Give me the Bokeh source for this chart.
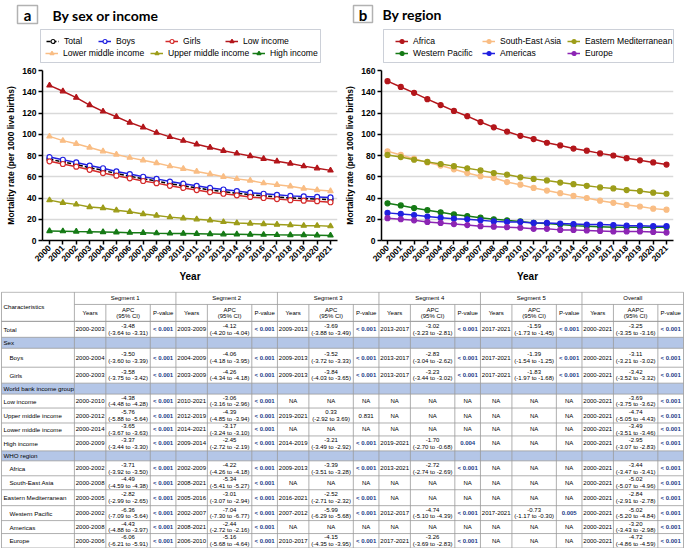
import math
from bokeh.plotting import figure
from bokeh.models import (Range1d, FixedTicker, Legend, LegendItem, Label,
                          BoxAnnotation)
from bokeh.layouts import column, row
from bokeh.embed import file_html
from bokeh.resources import INLINE
from bokeh.core.properties import value

# ---------------- data ----------------
years = list(range(2000, 2022))
y_ticks = [0, 20, 40, 60, 80, 100, 120, 140, 160]

# panel a: by sex or income (deaths per 1000 live births)
total = [76.5, 74, 71.5, 68.5, 66, 63, 60.5, 58, 56, 53.5, 51.5, 49.5, 47.5, 46, 44.5, 43, 42, 41, 40, 39.5, 39, 38.5]
boys = [78.5, 76, 73.5, 70.5, 68, 65, 62.5, 60, 58, 55.5, 53.5, 51.5, 49.5, 48, 46.5, 45, 44, 43, 42, 41.5, 41, 40.5]
girls = [74.5, 72, 69.5, 66.5, 63.5, 61, 58.5, 56, 54, 51.5, 49.5, 47.5, 45.5, 44, 42.5, 41, 40, 39, 38, 37.5, 37, 36]
low_income = [146, 140.5, 134.5, 127.5, 121.5, 116.5, 111, 106.5, 101.5, 97.5, 94, 90.5, 87.5, 84.5, 82, 79.5, 77, 74.5, 72.5, 70, 68, 66]
lower_middle = [98, 94, 91, 87.5, 84, 81, 78, 75.5, 73, 70, 67.5, 65, 62.5, 60, 58, 56.5, 54, 52.5, 51, 49, 47.5, 46.5]
upper_middle = [38, 35.5, 34, 31.5, 30.5, 28.5, 27, 25, 23.5, 22, 21, 20, 19, 17.5, 16.5, 16, 15.5, 15, 14.5, 14, 14, 13.5]
high_income = [9, 8.8, 8.5, 8.3, 8, 7.7, 7.4, 7.2, 6.9, 6.7, 6.5, 6.3, 6.1, 5.9, 5.8, 5.6, 5.5, 5.3, 5.2, 5.1, 5.0, 4.8]

# panel b: by WHO region
africa = [150, 144.5, 139, 133, 127.5, 122, 117, 111.5, 106.5, 102.5, 98.5, 95.5, 92, 89.5, 86.5, 84.5, 82, 80, 77.5, 75.5, 73.5, 71.5]
se_asia = [84, 80.5, 77, 73.5, 70.5, 67, 63.5, 60.5, 59, 55, 52.5, 49.5, 47, 44.5, 42, 40, 37.5, 35.5, 33.5, 32, 30, 29]
east_med = [80.5, 78.5, 76, 74, 72, 70, 68, 66, 63.5, 62, 59.5, 58, 56.5, 54.5, 53, 51.5, 50, 49, 47.5, 46.5, 45, 44]
west_pac = [35, 33, 30.5, 28.5, 26.5, 24.5, 23, 21.5, 20, 19, 18, 16.5, 16, 15, 14, 13.5, 13, 12.5, 12.5, 12.5, 12.5, 12.5]
americas = [26, 25, 24, 22.5, 21.5, 20.5, 20, 19, 18, 17.5, 17.5, 16.5, 16.5, 16, 15.5, 15, 15, 14.5, 14, 14, 13.5, 13.5]
europe = [21, 20, 19, 17.5, 16.5, 15.5, 14.5, 13.5, 13, 12.5, 12, 11, 11, 10, 10, 9.5, 9, 8.5, 8.5, 8.5, 8, 7.5]

# table
seg_headers = ["Segment 1", "Segment 2", "Segment 3", "Segment 4", "Segment 5", "Overall"]
row_names = ["Total", "Sex", "Boys", "Girls", "World bank income group", "Low income",
             "Upper middle income", "Lower middle income", "High income", "WHO region",
             "Africa", "South-East Asia", "Eastern Mediterranean", "Western Pacific",
             "Americas", "Europe"]
NA = ("NA", "NA", "", "NA")
seg_total = [("2000-2003", "-3.48", "(-3.64 to -3.31)", "< 0.001"), ("2003-2009", "-4.12", "(-4.20 to -4.04)", "< 0.001"),
             ("2009-2013", "-3.69", "(-3.88 to -3.49)", "< 0.001"), ("2013-2017", "-3.02", "(-3.23 to -2.81)", "< 0.001"),
             ("2017-2021", "-1.59", "(-1.73 to -1.45)", "< 0.001"), ("2000-2021", "-3.25", "(-3.35 to -3.16)", "< 0.001")]
seg_boys = [("2000-2004", "-3.50", "(-3.60 to -3.39)", "< 0.001"), ("2004-2009", "-4.06", "(-4.18 to -3.95)", "< 0.001"),
            ("2009-2013", "-3.52", "(-3.72 to -3.33)", "< 0.001"), ("2013-2017", "-2.83", "(-3.04 to -2.62)", "< 0.001"),
            ("2017-2021", "-1.39", "(-1.54 to -1.25)", "< 0.001"), ("2000-2021", "-3.11", "(-3.21 to -3.02)", "< 0.001")]
seg_girls = [("2000-2003", "-3.58", "(-3.75 to -3.42)", "< 0.001"), ("2003-2009", "-4.26", "(-4.34 to -4.18)", "< 0.001"),
             ("2009-2013", "-3.84", "(-4.03 to -3.65)", "< 0.001"), ("2013-2017", "-3.23", "(-3.44 to -3.02)", "< 0.001"),
             ("2017-2021", "-1.83", "(-1.97 to -1.68)", "< 0.001"), ("2000-2021", "-3.42", "(-3.52 to -3.32)", "< 0.001")]
seg_low = [("2000-2010", "-4.38", "(-4.48 to -4.28)", "< 0.001"), ("2010-2021", "-3.06", "(-3.16 to -2.96)", "< 0.001"),
           NA, NA, NA, ("2000-2021", "-3.69", "(-3.75 to -3.62)", "< 0.001")]
seg_upper = [("2000-2012", "-5.76", "(-5.88 to -5.64)", "< 0.001"), ("2012-2019", "-4.39", "(-4.85 to -3.94)", "< 0.001"),
             ("2019-2021", "0.33", "(-2.92 to 3.69)", "0.831"), NA, NA, ("2000-2021", "-4.74", "(-5.05 to -4.43)", "< 0.001")]
seg_lower = [("2000-2014", "-3.65", "(-3.67 to -3.63)", "< 0.001"), ("2014-2021", "-3.17", "(-3.24 to -3.10)", "< 0.001"),
             NA, NA, NA, ("2000-2021", "-3.49", "(-3.51 to -3.46)", "< 0.001")]
seg_high = [("2000-2009", "-3.37", "(-3.44 to -3.30)", "< 0.001"), ("2009-2014", "-2.45", "(-2.72 to -2.19)", "< 0.001"),
            ("2014-2019", "-3.21", "(-3.49 to -2.92)", "< 0.001"), ("2019-2021", "-1.70", "(-2.70 to -0.68)", "0.004"),
            NA, ("2000-2021", "-2.95", "(-3.07 to -2.83)", "< 0.001")]
seg_africa = [("2000-2002", "-3.71", "(-3.92 to -3.50)", "< 0.001"), ("2002-2009", "-4.22", "(-4.26 to -4.18)", "< 0.001"),
              ("2009-2013", "-3.39", "(-3.51 to -3.28)", "< 0.001"), ("2013-2021", "-2.72", "(-2.74 to -2.69)", "< 0.001"),
              NA, ("2000-2021", "-3.44", "(-3.47 to -3.41)", "< 0.001")]
seg_sea = [("2000-2008", "-4.49", "(-4.59 to -4.38)", "< 0.001"), ("2008-2021", "-5.34", "(-5.41 to -5.27)", "< 0.001"),
           NA, NA, NA, ("2000-2021", "-5.02", "(-5.07 to -4.96)", "< 0.001")]
seg_emr = [("2000-2005", "-2.82", "(-2.99 to -2.65)", "< 0.001"), ("2005-2016", "-3.01", "(-3.07 to -2.94)", "< 0.001"),
           ("2016-2021", "-2.52", "(-2.71 to -2.32)", "< 0.001"), NA, NA, ("2000-2021", "-2.84", "(-2.91 to -2.78)", "< 0.001")]
seg_wpr = [("2000-2002", "-6.36", "(-7.09 to -5.64)", "< 0.001"), ("2002-2007", "-7.04", "(-7.30 to -6.77)", "< 0.001"),
           ("2007-2012", "-5.99", "(-6.29 to -5.68)", "< 0.001"), ("2012-2017", "-4.74", "(-5.10 to -4.39)", "< 0.001"),
           ("2017-2021", "-0.73", "(-1.17 to -0.30)", "0.005"), ("2000-2021", "-5.02", "(-5.20 to -4.84)", "< 0.001")]
seg_amr = [("2000-2008", "-4.43", "(-4.88 to -3.97)", "< 0.001"), ("2008-2021", "-2.44", "(-2.72 to -2.16)", "< 0.001"),
           NA, NA, NA, ("2000-2021", "-3.20", "(-3.43 to -2.98)", "< 0.001")]
seg_eur = [("2000-2006", "-6.06", "(-6.21 to -5.91)", "< 0.001"), ("2006-2010", "-5.16", "(-5.68 to -4.64)", "< 0.001"),
           ("2010-2017", "-4.15", "(-4.35 to -3.95)", "< 0.001"), ("2017-2021", "-3.26", "(-3.69 to -2.83)", "< 0.001"),
           NA, ("2000-2021", "-4.72", "(-4.86 to -4.59)", "< 0.001")]
row_cells = [seg_total, None, seg_boys, seg_girls, None, seg_low, seg_upper, seg_lower, seg_high, None,
             seg_africa, seg_sea, seg_emr, seg_wpr, seg_amr, seg_eur]

# ---------------- styles ----------------
FONT = "Liberation Sans"
C_DRED = "#b3161b"
C_ORANGE = "#f9bd84"
C_OLIVE = "#9d9d1a"
C_GREEN = "#157a15"
C_BLUE = "#2020e0"
C_RED = "#d42a2a"
C_PURPLE = "#8c25b4"
HEAD_H = 63
CHART_H = 228
TABLE_H = 257


def make_chart(width, height, fl, fr, ft, fb, xr):
    p = figure(width=width, height=height, x_range=Range1d(*xr), y_range=Range1d(0, 160),
               output_backend="svg", toolbar_location=None,
               min_border_left=fl, min_border_right=width - fr,
               min_border_top=ft, min_border_bottom=height - fb)
    p.outline_line_color = None
    p.xgrid.grid_line_color = None
    p.ygrid.grid_line_color = "#d9d9d9"
    p.ygrid.grid_line_width = 1.3
    p.yaxis.ticker = FixedTicker(ticks=y_ticks)
    p.ygrid.ticker = FixedTicker(ticks=y_ticks)
    p.xaxis.ticker = FixedTicker(ticks=years)
    for ax in (p.xaxis[0], p.yaxis[0]):
        ax.axis_line_width = 1.5
        ax.axis_line_color = "black"
        ax.major_tick_line_width = 1.5
        ax.major_tick_line_color = "black"
        ax.major_tick_out = 4
        ax.major_tick_in = 0
        ax.minor_tick_line_color = None
        ax.major_label_text_font = FONT
        ax.major_label_text_font_style = "bold"
        ax.major_label_text_font_size = "8.5px"
        ax.major_label_text_color = "black"
        ax.major_label_standoff = 2
        ax.axis_label_text_font = FONT
        ax.axis_label_text_font_style = "bold"
        ax.axis_label_text_color = "black"
    p.xaxis.major_label_orientation = math.pi / 4
    p.xaxis.axis_label = "Year"
    p.xaxis.axis_label_text_font_size = "10px"
    p.xaxis.axis_label_standoff = 4
    p.yaxis.axis_label = "Mortality rate (per 1000 live births)"
    p.yaxis.axis_label_text_font_size = "8.5px"
    p.yaxis.axis_label_standoff = 3
    return p


def series(p, ys, color, marker, dash="solid", fill=None, size=5):
    r1 = p.line(years, ys, line_color=color, line_width=1.5, line_dash=dash)
    r2 = p.scatter(years, ys, marker=marker, size=size, line_color=color,
                   fill_color=fill if fill else color, line_width=1.2)
    return [r1, r2]


def make_header(width, letter, lbox, title, tx, legbox, items):
    h = figure(width=width, height=HEAD_H, x_range=Range1d(0, width), y_range=Range1d(HEAD_H, 0),
               output_backend="svg", toolbar_location=None, min_border=0,
               x_axis_type=None, y_axis_type=None)
    h.grid.visible = False
    h.outline_line_color = None
    x0, y0, x1, y1 = lbox
    h.add_layout(BoxAnnotation(left=x0, right=x1, top=y0, bottom=y1,
                               fill_alpha=0, line_color="black", line_width=1.5))
    h.add_layout(Label(x=(x0 + x1) / 2, y=(y0 + y1) / 2 + 0.5, text=letter, text_font="Lato",
                       text_font_style="bold", text_font_size="15px",
                       text_align="center", text_baseline="middle", text_color="black"))
    h.add_layout(Label(x=tx, y=(y0 + y1) / 2 + 0.5, text=title, text_font="Lato",
                       text_font_style="bold", text_font_size="14px",
                       text_align="left", text_baseline="middle", text_color="black"))
    x0, y0, x1, y1 = legbox
    h.add_layout(BoxAnnotation(left=x0, right=x1, top=y0, bottom=y1,
                               fill_alpha=0, line_color="#56627e", line_width=1))
    for (lx, ly, lab, ys, color, marker, dash, fill, size) in items:
        # legend glyphs: the real series, drawn outside this header's visible range
        rends = series(h, ys, color, marker, dash=dash, fill=fill, size=size)
        leg = Legend(items=[LegendItem(label=lab, renderers=rends)],
                     location=(lx, HEAD_H - ly - 5), orientation="horizontal",
                     padding=0, margin=0, spacing=0, glyph_width=13, glyph_height=10,
                     label_height=10, label_standoff=5, label_text_font=FONT,
                     label_text_font_size="8.6px", label_text_color="black",
                     label_text_baseline="middle",
                     border_line_alpha=0, background_fill_alpha=0)
        h.add_layout(leg)
    return h


# ---------------- panel a ----------------
sty_a = [("Total", total, "black", "circle", "4 2", "white", 5),
         ("Boys", boys, C_BLUE, "circle", "solid", "white", 5),
         ("Girls", girls, C_RED, "circle", "solid", "white", 5),
         ("Low income", low_income, C_DRED, "triangle", "solid", None, 5.5),
         ("Lower middle income", lower_middle, C_ORANGE, "triangle", "solid", None, 5.5),
         ("Upper middle income", upper_middle, C_OLIVE, "triangle", "solid", None, 5.5),
         ("High income", high_income, C_GREEN, "triangle", "solid", None, 5.5)]
pos_a = [(46, 40.5), (98, 40.5), (165, 40.5), (225, 40.5), (45, 53), (150, 53), (252, 53)]

WA = 340
pa = make_chart(WA, CHART_H, 42, 337, 70 - HEAD_H, 243 - HEAD_H, (1999.477, 2021.523))
for (lab, ys, c, m, d, f, s) in sty_a[3:] + sty_a[:3]:
    series(pa, ys, c, m, dash=d, fill=f, size=s)
ha = make_header(WA, "a", (17, 5, 37, 23), "By sex or income", 52, (40, 29, 320, 62),
                 [(px, py) + st for (px, py), st in zip(pos_a, sty_a)])

# ---------------- panel b ----------------
sty_b = [("Africa", africa, C_DRED, "circle", "solid", None, 5),
         ("South-East Asia", se_asia, C_ORANGE, "circle", "solid", None, 5),
         ("Eastern Mediterranean", east_med, C_OLIVE, "circle", "solid", None, 5),
         ("Western Pacific", west_pac, C_GREEN, "circle", "solid", None, 5),
         ("Americas", americas, C_BLUE, "circle", "solid", None, 5),
         ("Europe", europe, C_PURPLE, "circle", "solid", None, 5)]
pos_b = [(55, 40.5), (142, 40.5), (227, 40.5), (55, 53), (142, 53), (227, 53)]

WB = 344
pb = make_chart(WB, CHART_H, 41, 333, 68 - HEAD_H, 240 - HEAD_H, (1999.548, 2021.527))
for (lab, ys, c, m, d, f, s) in sty_b:
    series(pb, ys, c, m, dash=d, fill=f, size=s)
hb = make_header(WB, "b", (13, 5, 32, 22), "By region", 42, (43, 29, 333, 62),
                 [(px, py) + st for (px, py), st in zip(pos_b, sty_b)])

# ---------------- table ----------------
T_TOP, T_MID, T_HEAD = 291.7, 304.0, 321.0
row_edges = [321, 337, 348, 367, 383, 394, 408, 423, 436, 451, 461, 476, 490, 506, 521, 534, 548.5]
name_indent = [3, 3, 9, 9, 3, 3, 3, 3, 3, 3, 9, 9, 3, 9, 9, 9]
X_LEFT, X_CHAR, X_RIGHT = 1.0, 74.0, 684.0
seg_w = (X_RIGHT - X_CHAR) / 6.0
sub_off = [0.0, 31.5, 76.0, seg_w]

tp = figure(width=WA + WB, height=TABLE_H, x_range=Range1d(0, 685), y_range=Range1d(549.0, 291.0),
            output_backend="svg", toolbar_location=None, min_border=0,
            x_axis_type=None, y_axis_type=None)
tp.grid.visible = False
tp.outline_line_color = None

sec_l, sec_r, sec_t, sec_b = [], [], [], []
for i, cells in enumerate(row_cells):
    if cells is None:
        sec_l.append(X_LEFT); sec_r.append(X_RIGHT)
        sec_t.append(row_edges[i]); sec_b.append(row_edges[i + 1])
tp.quad(left=sec_l, right=sec_r, top=sec_t, bottom=sec_b, fill_color="#b4c6e7", line_color=None)

hx0, hx1, hy = [], [], []
for y in [T_TOP, T_HEAD] + row_edges:
    hx0.append(X_LEFT); hx1.append(X_RIGHT); hy.append(y)
hx0.append(X_CHAR); hx1.append(X_RIGHT); hy.append(T_MID)
tp.segment(x0=hx0, y0=hy, x1=hx1, y1=hy, line_color="#9a9a9a", line_width=0.8)
vx, vy0, vy1 = [X_LEFT, X_CHAR], [T_TOP, T_TOP], [row_edges[-1], row_edges[-1]]
for k in range(6):
    s = X_CHAR + k * seg_w
    vx.append(s + seg_w); vy0.append(T_TOP); vy1.append(row_edges[-1])
    for o in sub_off[1:3]:
        vx.append(s + o); vy0.append(T_MID); vy1.append(row_edges[-1])
tp.segment(x0=vx, y0=vy0, x1=vx, y1=vy1, line_color="#9a9a9a", line_width=0.8)

TF = value(FONT)
tp.text(x=[3], y=[(T_TOP + T_HEAD) / 2], text=["Characteristics"], text_font=TF,
        text_font_size="6.2px", text_align="left", text_baseline="middle", text_color="black")
hx, hyy, ht = [], [], []
for k, hname in enumerate(seg_headers):
    s = X_CHAR + k * seg_w
    hx.append(s + seg_w / 2); hyy.append((T_TOP + T_MID) / 2); ht.append(hname)
    hx.append(s + sub_off[1] / 2); hyy.append((T_MID + T_HEAD) / 2); ht.append("Years")
    hx.append(s + (sub_off[1] + sub_off[2]) / 2); hyy.append((T_MID + T_HEAD) / 2 - 3.4)
    ht.append("AAPC" if hname == "Overall" else "APC")
    hx.append(s + (sub_off[1] + sub_off[2]) / 2); hyy.append((T_MID + T_HEAD) / 2 + 3.4); ht.append("(95% CI)")
    hx.append(s + (sub_off[2] + sub_off[3]) / 2); hyy.append((T_MID + T_HEAD) / 2); ht.append("P-value")
tp.text(x=hx, y=hyy, text=ht, text_font=TF, text_font_size="6px", text_align="center",
        text_baseline="middle", text_color="black")

nx, ny, nt = [], [], []
cx, cy, ct = [], [], []
px_, py_, pt_ = [], [], []
for i, name in enumerate(row_names):
    mid = (row_edges[i] + row_edges[i + 1]) / 2
    nx.append(name_indent[i]); ny.append(mid); nt.append(name)
    cells = row_cells[i]
    if cells is None:
        continue
    for k, (yrs, apc, ci, pv) in enumerate(cells):
        s = X_CHAR + k * seg_w
        cx.append(s + sub_off[1] / 2); cy.append(mid); ct.append(yrs)
        acx = s + (sub_off[1] + sub_off[2]) / 2
        if ci:
            cx.append(acx); cy.append(mid - 3.3); ct.append(apc)
            cx.append(acx); cy.append(mid + 3.3); ct.append(ci)
        else:
            cx.append(acx); cy.append(mid); ct.append(apc)
        pcx = s + (sub_off[2] + sub_off[3]) / 2
        if pv == "NA" or pv == "0.831":
            cx.append(pcx); cy.append(mid); ct.append(pv)
        else:
            px_.append(pcx); py_.append(mid); pt_.append(pv)
tp.text(x=nx, y=ny, text=nt, text_font=TF, text_font_size="6.2px", text_align="left",
        text_baseline="middle", text_color="black")
tp.text(x=cx, y=cy, text=ct, text_font=TF, text_font_size="6px", text_align="center",
        text_baseline="middle", text_color="black")
tp.text(x=px_, y=py_, text=pt_, text_font=TF, text_font_size="6px", text_align="center",
        text_baseline="middle", text_color="#1c3b87", text_font_style="bold")

layout = column(row(ha, hb), row(pa, pb), tp)
open("out.html", "w").write(file_html(layout, INLINE))
